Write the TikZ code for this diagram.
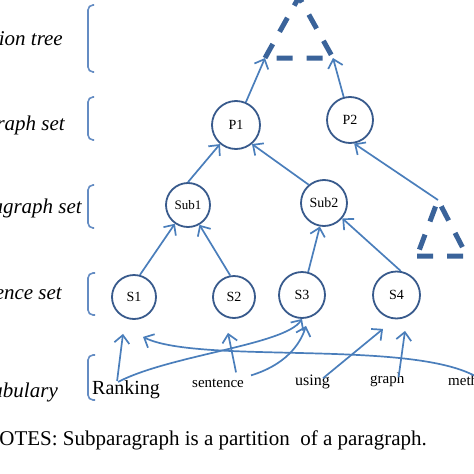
\documentclass[tikz,border=0pt]{standalone}
\usepackage{fontspec}
\setmainfont{Liberation Serif}
\usetikzlibrary{arrows.meta,calc}
\definecolor{arrc}{RGB}{74,126,187}
\definecolor{circc}{RGB}{56,90,140}
\definecolor{dashc}{RGB}{58,99,154}
\definecolor{brc}{RGB}{100,140,195}
\begin{document}
\begin{tikzpicture}[x=1pt,y=-1pt,
  snode/.style={circle,draw=circc,line width=1.8pt,minimum size=44pt,inner sep=0pt,font=\fontsize{14}{14}\selectfont},
  arr/.style={draw=arrc,line width=1.7pt,-{Straight Barb[length=8pt,width=15pt]}},
  dtri/.style={draw=dashc,line width=5pt,dash pattern=on 16pt off 14pt},
  brk/.style={draw=brc,line width=1.6pt,rounded corners=5pt},
  lab/.style={font=\fontsize{21}{21}\selectfont\itshape,anchor=base east,inner sep=0pt},
  word/.style={font=\fontsize{15}{15}\selectfont,anchor=base west,inner sep=0pt}]
\useasboundingbox (0,0) rectangle (474,474);
\clip (0,0) rectangle (474,474);

% left labels
\node[lab] (l1) at (63,45) {Construction tree};
\node[lab] (l2) at (65,130) {Paragraph set};
\node[lab] (l3) at (82,213) {Subparagraph set};
\node[lab] (l4) at (62,299) {Sentence set};
\node[lab] (l5) at (58,397) {Vocabulary};

% brackets
\draw[brk] (94,5) -- (88,5) -- (88,72) -- (94,72);
\draw[brk] (94,97) -- (88,97) -- (88,140) -- (94,140);
\draw[brk] (94,185) -- (88,185) -- (88,228) -- (94,228);
\draw[brk] (95,273) -- (88,273) -- (88,315) -- (95,315);
\draw[brk] (95,355) -- (88,355) -- (88,400) -- (95,400);

% dashed triangles
\coordinate (T1) at (265,58);
\coordinate (T2) at (333,58);
\coordinate (TA) at (299,-3);
\draw[dtri] (T1) -- (TA) -- (T2) -- cycle;
\coordinate (R1) at (417,256);
\coordinate (RA) at (438,200);
\coordinate (R2) at (467,256);
\draw[dtri] (R1) -- (R2) -- (RA) -- cycle;

% circle nodes
\node[snode,minimum size=48pt] (P1) at (236,125) {P1};
\node[snode,minimum size=46pt] (P2) at (350,120) {P2};
\node[snode,font=\fontsize{13}{13}\selectfont] (Sub1) at (188,205) {Sub1};
\node[snode,minimum size=46pt,font=\fontsize{14}{14}\selectfont] (Sub2) at (324,203) {Sub2};
\node[snode] (S1) at (134,297) {S1};
\node[snode,minimum size=42pt] (S2) at (234,297) {S2};
\node[snode,minimum size=46pt] (S3) at (302,295) {S3};
\node[snode,minimum size=47pt] (S4) at (396.5,295) {S4};

% words
\node[font=\fontsize{20}{20}\selectfont,anchor=base west,inner sep=0pt] (Ranking) at (92,394) {Ranking};
\node[word] (sentence) at (192,387) {sentence};
\node[word,font=\fontsize{16}{16}\selectfont] (using) at (295,385) {using};
\node[word] (graph) at (370,383) {graph};
\node[word] (method) at (448,385) {method};

% notes
\node[font=\fontsize{21}{21}\selectfont,anchor=base east,inner sep=0pt] (notes) at (427,445) {NOTES: Subparagraph is a partition\ \ of a paragraph.};

% tree arrows
\draw[arr] (P1) -- (T1);
\draw[arr] (P2) -- (T2);
\draw[arr] (Sub1.north) -- (P1.230);
\draw[arr] (Sub2.130) -- (P1.-50);
\draw[arr] (RA) -- (P2.-80);
\draw[arr] (S1.75) -- (Sub1.235);
\draw[arr] (S2.100) -- (Sub1.-60);
\draw[arr] (S3.75) -- (Sub2.-100);
\draw[arr] (S4.80) -- (Sub2.-40);

% word arrows
\coordinate (S1a) at ($(S1.south)+(-11,14)$);
\coordinate (S1b) at ($(S1.south)+(9,17)$);
\coordinate (S2a) at ($(S2.south)+(-6,14)$);
\coordinate (S3b) at ($(S3.south)+(4,7)$);
\coordinate (S4a) at ($(S4.south)+(-13.5,9.5)$);
\coordinate (S4b) at ($(S4.south)+(8.5,11.5)$);
\draw[arr] ($(Ranking.north)+(-9,1)$) -- (S1a);
\draw[arr] ($(Ranking.north)+(-8,2)$) .. controls (170,355) and (285,345) .. (S3.south);
\draw[arr] ($(method.north)+(10,5)$) .. controls (420,338) and (200,365) .. (S1b);
\draw[arr] ($(sentence.north east)+(-8,-6)$) -- (S2a);
\draw[arr] ($(sentence.north east)+(7,-3)$) .. controls (285,365) and (300,345) .. (S3b);
\draw[arr] ($(using.north east)+(-7,4)$) -- (S4a);
\draw[arr] ($(graph.north east)+(-6,5)$) -- (S4b);
\end{tikzpicture}
\end{document}
